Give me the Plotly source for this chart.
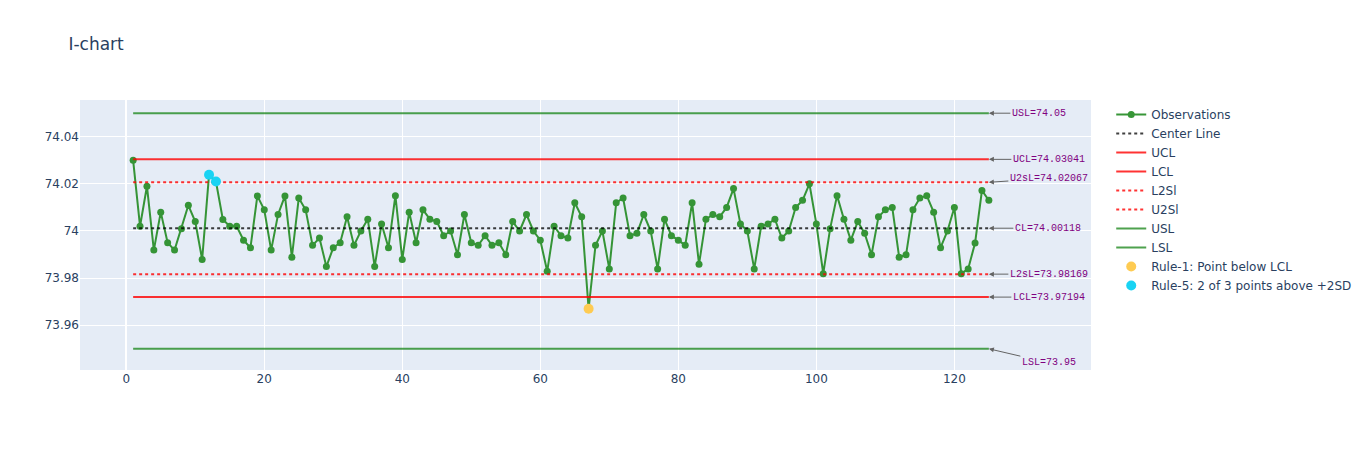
import plotly.graph_objects as go

obs = [74.0300, 74.0020, 74.0190, 73.9919, 74.0080, 73.9950, 73.9919, 74.0009, 74.0109, 74.0040,
       73.9879, 74.0239, 74.0210, 74.0049, 74.0020, 74.0020, 73.9961, 73.9929, 74.0149, 74.0090,
       73.9919, 74.0070, 74.0149, 73.9889, 74.0140, 74.0090, 73.9939, 73.9970, 73.9849, 73.9929,
       73.9950, 74.0060, 73.9939, 74.0000, 74.0050, 73.9849, 74.0030, 73.9929, 74.0150, 73.9879,
       74.0080, 73.9950, 74.0090, 74.0050, 74.0040, 73.9980, 74.0000, 73.9899, 74.0070, 73.9950,
       73.9939, 73.9980, 73.9939, 73.9950, 73.9899, 74.0040, 74.0000, 74.0070, 74.0000, 73.9961,
       73.9829, 74.0020, 73.9980, 73.9970, 74.0120, 74.0060, 73.9670, 73.9939, 74.0000, 73.9839,
       74.0120, 74.0140, 73.9980, 73.9990, 74.0070, 74.0000, 73.9839, 74.0050, 73.9980, 73.9961,
       73.9939, 74.0120, 73.9859, 74.0050, 74.0070, 74.0060, 74.0100, 74.0180, 74.0030, 74.0000,
       73.9839, 74.0020, 74.0030, 74.0050, 73.9970, 74.0000, 74.0100, 74.0130, 74.0200, 74.0030,
       73.9819, 74.0010, 74.0150, 74.0050, 73.9961, 74.0040, 73.9990, 73.9899, 74.0060, 74.0090,
       74.0100, 73.9889, 73.9899, 74.0090, 74.0140, 74.0150, 74.0080, 73.9929, 74.0000, 74.0100,
       73.9819, 73.9839, 73.9949, 74.0172, 74.0130]
x = list(range(1, len(obs) + 1))

CL = 74.00118
UCL = 74.03041
LCL = 73.97194
U2SL = 74.02067
L2SL = 73.98169
USL = 74.05
LSL = 73.95

rule1_x = [67]
rule5_x = [12, 13]

fig = go.Figure()
fig.add_trace(go.Scatter(x=x, y=obs, mode="lines+markers", name="Observations",
                         line=dict(color="forestgreen", width=2), marker=dict(size=7, color="forestgreen"),
                         opacity=0.9))
xe = [x[0], x[-1]]
fig.add_trace(go.Scatter(x=xe, y=[CL, CL], mode="lines", name="Center Line",
                         line=dict(color="black", width=2, dash="dot"), opacity=0.75))
fig.add_trace(go.Scatter(x=xe, y=[UCL, UCL], mode="lines", name="UCL",
                         line=dict(color="red", width=2), opacity=0.8))
fig.add_trace(go.Scatter(x=xe, y=[LCL, LCL], mode="lines", name="LCL",
                         line=dict(color="red", width=2), opacity=0.8))
fig.add_trace(go.Scatter(x=xe, y=[L2SL, L2SL], mode="lines", name="L2Sl",
                         line=dict(color="red", width=2, dash="dot"), opacity=0.8))
fig.add_trace(go.Scatter(x=xe, y=[U2SL, U2SL], mode="lines", name="U2Sl",
                         line=dict(color="red", width=2, dash="dot"), opacity=0.8))
fig.add_trace(go.Scatter(x=xe, y=[USL, USL], mode="lines", name="USL",
                         line=dict(color="forestgreen", width=2), opacity=0.8))
fig.add_trace(go.Scatter(x=xe, y=[LSL, LSL], mode="lines", name="LSL",
                         line=dict(color="forestgreen", width=2), opacity=0.8))
fig.add_trace(go.Scatter(x=rule1_x, y=[obs[i - 1] for i in rule1_x], mode="markers",
                         name="Rule-1: Point below LCL", marker=dict(size=10, color="#FECB52")))
fig.add_trace(go.Scatter(x=rule5_x, y=[obs[i - 1] for i in rule5_x], mode="markers",
                         name="Rule-5: 2 of 3 points above +2SD", marker=dict(size=10, color="#19D3F3")))

labels = [("USL=74.05", USL, 50, 0), ("UCL=74.03041", UCL, 60, 0), ("U2sL=74.02067", U2SL, 60, -4),
          ("CL=74.00118", CL, 59, 0), ("L2sL=73.98169", L2SL, 60, 0), ("LCL=73.97194", LCL, 60, 0),
          ("LSL=73.95", LSL, 60, 14)]
for txt, yv, ax, ay in labels:
    fig.add_annotation(x=x[-1], y=yv, text=txt, showarrow=True, ax=ax, ay=ay,
                       arrowhead=2, arrowsize=1, arrowwidth=1, arrowcolor="#636363",
                       font=dict(family="Courier New, Liberation Mono, monospace", size=10, color="purple"))

fig.update_layout(width=1369, height=450, title=dict(text="I-chart"),
                  font=dict(family="DejaVu Sans, Verdana, sans-serif"),
                  xaxis=dict(range=[-6.7, 139.8]),
                  yaxis=dict(range=[73.941, 74.0556]))
fig.write_html("out.html", config={"displayModeBar": False},
               post_script="document.body.style.margin='0';")
